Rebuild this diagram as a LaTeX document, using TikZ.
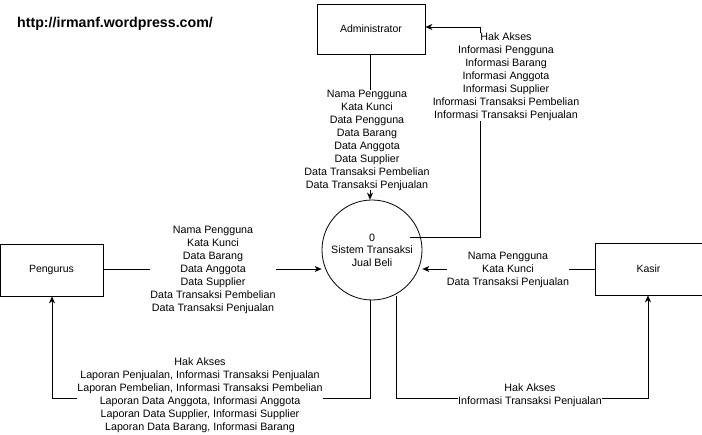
\documentclass[tikz,border=0pt]{standalone}
\usepackage{fontspec}
\setmainfont{Liberation Sans}
\usetikzlibrary{arrows.meta}
\begin{document}
\begin{tikzpicture}[x=1pt,y=-1pt,
  ent/.style={draw,line width=0.8pt,minimum width=107pt,minimum height=52pt,font=\fontsize{10.5}{12}\selectfont},
  flow/.style={draw,line width=0.6pt,-{Stealth[length=7pt,width=6pt]}},
  lbl/.style={align=center,font=\fontsize{10.7}{13}\selectfont,inner sep=0pt}]
\path[use as bounding box,fill=white] (0,0) rectangle (702,435);
\node[font=\bfseries\fontsize{14.2}{16}\selectfont] (wm) at (115,24) {http://irmanf.wordpress.com/};
\node[ent,minimum width=108pt,minimum height=50pt] (adm) at (371,29) {Administrator};
\node[ent,minimum width=103pt] (pg) at (51.5,270) {Pengurus};
\node[ent] (ks) at (648.5,269) {Kasir};
\node[draw,line width=0.8pt,circle,minimum size=100pt,align=center,inner sep=0pt,font=\fontsize{10.7}{12.5}\selectfont] (c) at (372,250) {0\\Sistem Transaksi\\Jual Beli};
\coordinate (a1) at (410,237);
\coordinate (a2) at (480,237);
\coordinate (a3) at (480,27);
\draw[flow] (adm.south -| 370,0) -- (c.north -| 370,0);
\draw[flow] (a1) -- (a2) -- (a3) -- (adm.east |- a3);
\draw[flow] (pg.east |- 0,269) -- (c.west |- 0,269);
\draw[flow] (ks.west |- 0,269) -- (c.east |- 0,269);
\coordinate (b1) at (370,398);
\coordinate (b2) at (52,398);
\draw[flow] (c.south -| 370,0) -- (b1) -- (b2) -- (pg.south -| b2);
\coordinate (k1) at (396,296);
\coordinate (k2) at (396,398);
\coordinate (k3) at (648,398);
\draw[flow] (k1) -- (k2) -- (k3) -- (ks.south -| k3);
\node[lbl,fill=white] (l1) at (367,140) {Nama Pengguna\\Kata Kunci\\Data Pengguna\\Data Barang\\Data Anggota\\Data Supplier\\Data Transaksi Pembelian\\Data Transaksi Penjualan};
\node[lbl,fill=white] (l2) at (506,77) {Hak Akses\\Informasi Pengguna\\Informasi Barang\\Informasi Anggota\\Informasi Supplier\\Informasi Transaksi Pembelian\\Informasi Transaksi Penjualan};
\node[lbl,fill=white] (l3) at (213,270) {Nama Pengguna\\Kata Kunci\\Data Barang\\Data Anggota\\Data Supplier\\Data Transaksi Pembelian\\Data Transaksi Penjualan};
\node[lbl,fill=white] (l4) at (508,270) {Nama Pengguna\\Kata Kunci\\Data Transaksi Penjualan};
\node[lbl,fill=white] (l5) at (200,395) {Hak Akses\\Laporan Penjualan, Informasi Transaksi Penjualan\\Laporan Pembelian, Informasi Transaksi Pembelian\\Laporan Data Anggota, Informasi Anggota\\Laporan Data Supplier, Informasi Supplier\\Laporan Data Barang, Informasi Barang};
\node[lbl,fill=white] (l6) at (530,395) {Hak Akses\\Informasi Transaksi Penjualan};
\end{tikzpicture}
\end{document}
